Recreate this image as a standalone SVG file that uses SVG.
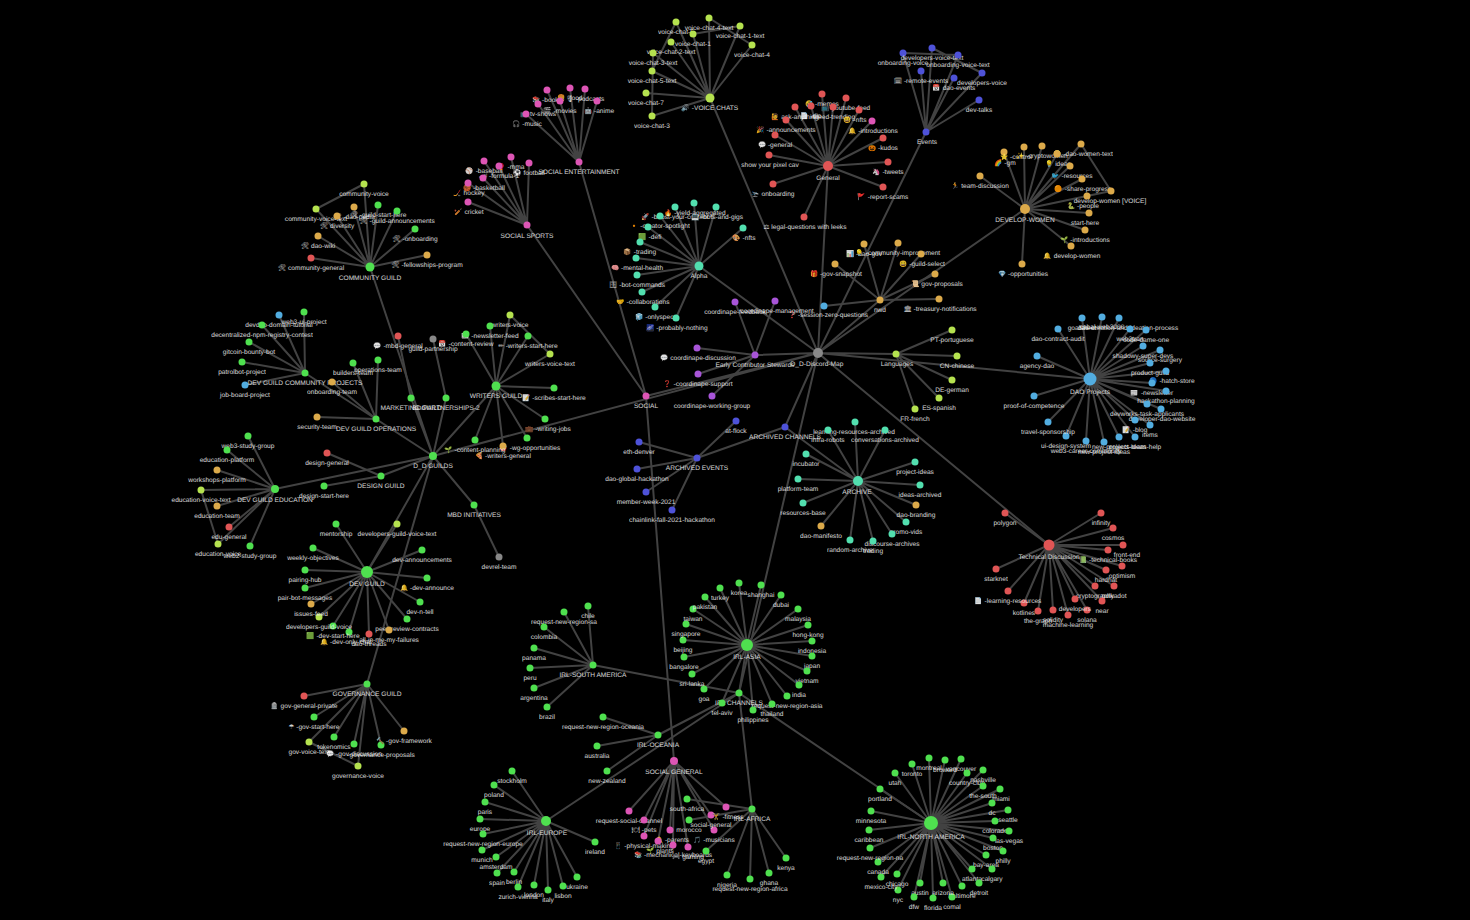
<svg xmlns="http://www.w3.org/2000/svg" width="1470" height="920" viewBox="0 0 1470 920">
<style>
text{font-family:"Liberation Sans","Noto Sans",sans-serif;font-size:6.6px;text-anchor:middle;fill:#f0f0f0;text-rendering:geometricPrecision;opacity:.88;transform:translateY(.5px)}
#edges path{stroke:#424242;stroke-width:2;fill:none}
.g{fill:#4fe04f}.l{fill:#b5e24f}.m{fill:#dd55b5}.r{fill:#e05555}.b{fill:#4e52d8}.o{fill:#dcaa4a}.t{fill:#52dfaf}.s{fill:#52ade0}.p{fill:#a855d8}.y{fill:#888}
</style>
<rect width="1470" height="920" fill="#000"/>
<g id="edges">
<path d="M818 353L710 98M818 353L828 166M818 353L926 132M818 353L1025 209M818 353L880 300M818 353L699 266M818 353L755 355M818 353L896 354M818 353L1090 379M818 353L1049 545M818 353L785 427M818 353L739 693M818 353L646 396M818 353L433 456"/>
<path d="M710 98L676 22M710 98L709 18M710 98L693 34M710 98L740 26M710 98L671 42M710 98L752 45M710 98L653 53M710 98L652 71M710 98L646 93M710 98L652 116M709 18L752 45M676 22L652 71M653 53L652 116M693 34L740 26"/>
<path d="M646 396L579 162M646 396L527 225M646 396L674 761"/>
<path d="M579 162L547 90M579 162L570 88M579 162L585 89M579 162L597 101M579 162L560 101M579 162L538 104M579 162L526 114"/>
<path d="M527 225L484 161M527 225L511 157M527 225L529 163M527 225L499 166M527 225L483 178M527 225L468 183M527 225L468 202"/>
<path d="M828 166L822 94M828 166L846 98M828 166L795 107M828 166L811 106M828 166L833 107M828 166L859 110M828 166L872 121M828 166L786 120M828 166L775 135M828 166L883 138M828 166L769 155M828 166L888 162M828 166L883 187M828 166L773 184M828 166L804 217"/>
<path d="M926 132L903 53M926 132L932 48M926 132L958 55M926 132L921 71M926 132L954 78M926 132L982 73M926 132L979 100M903 53L958 55M932 48L982 73"/>
<path d="M1025 209L1004 152M1025 209L1024 147M1025 209L1042 146M1025 209L1081 144M1025 209L1057 154M1025 209L1070 166M1025 209L1082 179M1025 209L1111 191M1025 209L1087 196M1025 209L1089 213M1025 209L1085 230M1025 209L1071 246M1025 209L1022 264M1025 209L980 176M1081 144L1111 191"/>
<path d="M880 300L864 244M880 300L898 243M880 300L921 254M880 300L835 264M880 300L935 274M880 300L939 299M880 300L824 306"/>
<path d="M699 266L675 207M699 266L694 203M699 266L716 207M699 266L660 216M699 266L648 227M699 266L640 242M699 266L636 258M699 266L637 275M699 266L642 292M699 266L655 307M699 266L676 318M699 266L743 228"/>
<path d="M755 355L735 302M755 355L775 301M755 355L697 348M755 355L698 374M755 355L712 396"/>
<path d="M896 354L952 330M896 354L957 356M896 354L952 380M896 354L939 398M896 354L915 409"/>
<path d="M1090 379L1058 329M1090 379L1082 318M1090 379L1102 317M1090 379L1119 318M1090 379L1130 329M1090 379L1146 330M1090 379L1143 346M1090 379L1160 350M1090 379L1150 363M1090 379L1166 371M1090 379L1152 383M1090 379L1166 391M1090 379L1147 404M1090 379L1161 409M1090 379L1135 420M1090 379L1150 425M1090 379L1119 437M1090 379L1135 437M1090 379L1104 442M1090 379L1086 441M1090 379L1066 436M1090 379L1048 422M1090 379L1034 396M1090 379L1037 356"/>
<path d="M1049 545L1005 513M1049 545L1101 513M1049 545L1113 528M1049 545L1123 545M1049 545L1108 550M1049 545L1122 566M1049 545L1106 570M1049 545L1114 586M1049 545L1095 586M1049 545L1102 601M1049 545L1087 610M1049 545L1075 599M1049 545L1068 615M1049 545L1053 610M1049 545L1038 611M1049 545L1024 603M1049 545L1008 591M1049 545L996 569"/>
<path d="M858 481L785 427M858 481L855 422M858 481L828 430M858 481L885 430M858 481L806 454M858 481L915 462M858 481L798 479M858 481L920 485M858 481L803 503M858 481L916 505M858 481L906 522M858 481L892 534M858 481L821 526M858 481L850 540M858 481L873 541"/>
<path d="M785 427L697 458M697 458L736 421M697 458L639 442M697 458L637 469M697 458L646 492M697 458L672 510"/>
<path d="M739 693L747 645M739 693L593 665M739 693L658 735M739 693L546 821M739 693L752 809M739 693L931 823"/>
<path d="M747 645L720 588M747 645L739 583M747 645L761 585M747 645L781 595M747 645L798 609M747 645L808 625M747 645L812 641M747 645L812 656M747 645L807 671M747 645L799 685M747 645L787 696M747 645L772 704M747 645L753 710M747 645L722 703M747 645L704 689M747 645L692 674M747 645L684 657M747 645L683 640M747 645L686 624M747 645L693 609M747 645L705 597"/>
<path d="M593 665L588 606M593 665L564 612M593 665L544 627M593 665L534 648M593 665L530 668M593 665L534 688M593 665L547 707"/>
<path d="M658 735L603 717M658 735L597 746M658 735L607 771"/>
<path d="M546 821L512 771M546 821L494 785M546 821L485 802M546 821L480 819M546 821L483 834M546 821L482 850M546 821L496 857M546 821L497 873M546 821L514 872M546 821L518 887M546 821L534 885M546 821L548 890M546 821L563 886M546 821L577 877M546 821L595 842"/>
<path d="M674 761L629 811M674 761L644 820M674 761L644 836M674 761L670 830M674 761L658 841M674 761L673 845M674 761L688 847M674 761L714 830M674 761L711 815M674 761L726 807"/>
<path d="M752 809L687 799M752 809L689 820M752 809L706 851M752 809L727 875M752 809L750 879M752 809L769 873M752 809L786 858"/>
<path d="M931 823L880 789M931 823L895 773M931 823L912 764M931 823L929 758M931 823L945 760M931 823L961 759M931 823L967 773M931 823L983 770M931 823L983 786M931 823L1000 789M931 823L992 803M931 823L1008 810M931 823L995 821M931 823L1009 831M931 823L993 838M931 823L1003 851M931 823L986 855M931 823L992 869M931 823L972 869M931 823L979 883M931 823L962 886M931 823L952 897M931 823L943 883M931 823L933 898M931 823L920 883M931 823L914 897M931 823L898 890M931 823L897 874M931 823L881 877M931 823L878 862M931 823L870 848M931 823L869 830M931 823L871 811"/>
<path d="M433 456L370 267M433 456L305 373M433 456L376 419M433 456L411 398M433 456L446 398M433 456L496 386M433 456L381 476M433 456L275 489M433 456L474 505M433 456L367 572M433 456L367 684"/>
<path d="M370 267L364 184M370 267L316 209M370 267L354 207M370 267L337 216M370 267L378 205M370 267L397 211M370 267L415 229M370 267L318 236M370 267L427 255M370 267L311 258M364 184L316 209"/>
<path d="M305 373L304 312M305 373L279 315M305 373L262 325M305 373L249 342M305 373L242 362M305 373L245 385"/>
<path d="M376 419L353 363M376 419L378 360M376 419L332 382M376 419L317 417"/>
<path d="M411 398L398 336M446 398L433 339"/>
<path d="M496 386L510 315M496 386L490 326M496 386L466 334M496 386L528 336M496 386L550 354M496 386L554 388M496 386L545 419M496 386L527 438M496 386L503 446M496 386L475 440M510 315L550 354"/>
<path d="M381 476L327 453M381 476L324 486"/>
<path d="M275 489L248 436M275 489L227 450M275 489L217 470M275 489L201 490M275 489L217 506M275 489L229 527M275 489L218 544M275 489L250 546M201 490L218 544"/>
<path d="M474 505L499 557"/>
<path d="M367 572L336 524M367 572L397 524M367 572L422 550M367 572L427 578M367 572L420 602M367 572L407 619M367 572L389 630M367 572L369 634M367 572L349 632M367 572L333 626M367 572L319 617M367 572L311 604M367 572L305 588M367 572L305 570M367 572L313 548"/>
<path d="M367 684L304 696M367 684L314 717M367 684L334 737M367 684L309 742M367 684L354 744M367 684L381 745M367 684L404 731M367 684L358 766M309 742L358 766"/>
</g>
<g id="root"><circle class="y" cx="818" cy="353" r="5"/><text x="817" y="365.500">D_D-Discord-Map</text></g>
<g id="voice-chats"><circle class="l" cx="710" cy="98" r="4.500"/><text x="710" y="109.500">🔊 -VOICE CHATS</text></g>
<g id="vc1"><circle class="l" cx="676" cy="22" r="3.500"/><text x="676" y="33">voice-chat-5</text></g>
<g id="vc2"><circle class="l" cx="709" cy="18" r="3.500"/><text x="709" y="29">voice-chat-4-text</text></g>
<g id="vc3"><circle class="l" cx="693" cy="34" r="3.500"/><text x="693" y="45">voice-chat-1</text></g>
<g id="vc4"><circle class="l" cx="740" cy="26" r="3.500"/><text x="740" y="37">voice-chat-1-text</text></g>
<g id="vc5"><circle class="l" cx="671" cy="42" r="3.500"/><text x="671" y="53">voice-chat-2-text</text></g>
<g id="vc6"><circle class="l" cx="752" cy="45" r="3.500"/><text x="752" y="56">voice-chat-4</text></g>
<g id="vc7"><circle class="l" cx="653" cy="53" r="3.500"/><text x="653" y="64">voice-chat-3-text</text></g>
<g id="vc8"><circle class="l" cx="652" cy="71" r="3.500"/><text x="652" y="82">voice-chat-5-text</text></g>
<g id="vc9"><circle class="l" cx="646" cy="93" r="3.500"/><text x="646" y="104">voice-chat-7</text></g>
<g id="vc10"><circle class="l" cx="652" cy="116" r="3.500"/><text x="652" y="127">voice-chat-3</text></g>
<g id="social-ent"><circle class="m" cx="579" cy="162" r="3.500"/><text x="579" y="173">SOCIAL ENTERTAINMENT</text></g>
<g id="se1"><circle class="m" cx="547" cy="90" r="3.500"/><text x="547" y="101">📚 -books</text></g>
<g id="se2"><circle class="m" cx="570" cy="88" r="3.500"/><text x="570" y="99">🍔 -food</text></g>
<g id="se3"><circle class="m" cx="585" cy="89" r="3.500"/><text x="585" y="100">🎙 -podcasts</text></g>
<g id="se4"><circle class="m" cx="597" cy="101" r="3.500"/><text x="599" y="112">🤖 -anime</text></g>
<g id="se5"><circle class="m" cx="560" cy="101" r="3.500"/><text x="560" y="112">🎬 -movies</text></g>
<g id="se6"><circle class="m" cx="538" cy="104" r="3.500"/><text x="538" y="115">📺 tv-shows</text></g>
<g id="se7"><circle class="m" cx="526" cy="114" r="3.500"/><text x="527" y="125">🎧 -music</text></g>
<g id="social-sports"><circle class="m" cx="527" cy="225" r="3.500"/><text x="527" y="237">SOCIAL SPORTS</text></g>
<g id="sp1"><circle class="m" cx="484" cy="161" r="3.500"/><text x="484" y="172">⚾ -baseball</text></g>
<g id="sp2"><circle class="m" cx="511" cy="157" r="3.500"/><text x="511" y="168">🥊 -mma</text></g>
<g id="sp3"><circle class="m" cx="529" cy="163" r="3.500"/><text x="529" y="174">⚽ football</text></g>
<g id="sp4"><circle class="m" cx="499" cy="166" r="3.500"/><text x="499" y="177">🏎 -formula-1</text></g>
<g id="sp5"><circle class="m" cx="483" cy="178" r="3.500"/><text x="484" y="189">🏀 -basketball</text></g>
<g id="sp6"><circle class="m" cx="468" cy="183" r="3.500"/><text x="469" y="194">🏒 hockey</text></g>
<g id="sp7"><circle class="m" cx="468" cy="202" r="3.500"/><text x="469" y="213">🏏 cricket</text></g>
<g id="general"><circle class="r" cx="828" cy="166" r="5"/><text x="828" y="179">General</text></g>
<g id="ge1"><circle class="r" cx="822" cy="94" r="3.500"/><text x="822" y="105">🤣 -memes</text></g>
<g id="ge2"><circle class="r" cx="846" cy="98" r="3.500"/><text x="846" y="109">📺 youtube-feed</text></g>
<g id="ge3"><circle class="r" cx="795" cy="107" r="3.500"/><text x="795" y="118">🙋 ask-anything</text></g>
<g id="ge4"><circle class="r" cx="811" cy="106" r="3.500"/><text x="811" y="117">📄 -dip</text></g>
<g id="ge5"><circle class="r" cx="833" cy="107" r="3.500"/><text x="833" y="118">-bleed-trending</text></g>
<g id="ge6"><circle class="r" cx="859" cy="110" r="3.500"/><text x="855" y="121">😃 -nfts</text></g>
<g id="ge7"><circle class="m" cx="872" cy="121" r="3.500"/><text x="873" y="132">🔔 -introductions</text></g>
<g id="ge8"><circle class="r" cx="786" cy="120" r="3.500"/><text x="786" y="131">🎉 -announcements</text></g>
<g id="ge9"><circle class="r" cx="775" cy="135" r="3.500"/><text x="775" y="146">💬 -general</text></g>
<g id="ge10"><circle class="r" cx="883" cy="138" r="3.500"/><text x="883" y="149">🎃 -kudos</text></g>
<g id="ge11"><circle class="r" cx="769" cy="155" r="3.500"/><text x="770" y="166">show your pixel cav</text></g>
<g id="ge12"><circle class="r" cx="888" cy="162" r="3.500"/><text x="888" y="173">🦄 -tweets</text></g>
<g id="ge13"><circle class="r" cx="883" cy="187" r="3.500"/><text x="883" y="198">🚩 -report-scams</text></g>
<g id="ge14"><circle class="r" cx="773" cy="184" r="3.500"/><text x="773" y="195">🛬 onboarding</text></g>
<g id="ge15"><circle class="r" cx="804" cy="217" r="3.500"/><text x="805" y="228">⚖ legal-questions with leeks</text></g>
<g id="events"><circle class="b" cx="926" cy="132" r="3.500"/><text x="927" y="143">Events</text></g>
<g id="ev1"><circle class="b" cx="903" cy="53" r="3.500"/><text x="903" y="64">onboarding-voice</text></g>
<g id="ev2"><circle class="b" cx="932" cy="48" r="3.500"/><text x="932" y="59">developers-voice-text</text></g>
<g id="ev3"><circle class="b" cx="958" cy="55" r="3.500"/><text x="958" y="66">onboarding-voice-text</text></g>
<g id="ev4"><circle class="b" cx="921" cy="71" r="3.500"/><text x="921" y="82">🗓 -remote-events</text></g>
<g id="ev5"><circle class="b" cx="954" cy="78" r="3.500"/><text x="954" y="89">📅 dao-events</text></g>
<g id="ev6"><circle class="b" cx="982" cy="73" r="3.500"/><text x="982" y="84">developers-voice</text></g>
<g id="ev7"><circle class="b" cx="979" cy="100" r="3.500"/><text x="979" y="111">dev-talks</text></g>
<g id="women"><circle class="o" cx="1025" cy="209" r="5"/><text x="1025" y="221.500">DEVELOP-WOMEN</text></g>
<g id="wo1"><circle class="o" cx="1004" cy="152" r="3.500"/><text x="1005" y="164">🌈 -gm</text></g>
<g id="wo2"><circle class="o" cx="1024" cy="147" r="3.500"/><text x="1016" y="158">⭐ -control</text></g>
<g id="wo3"><circle class="o" cx="1042" cy="146" r="3.500"/><text x="1042" y="157">✨ -cryptowomen</text></g>
<g id="wo4"><circle class="o" cx="1081" cy="144" r="3.500"/><text x="1083" y="155">🪙 -dao-women-text</text></g>
<g id="wo5"><circle class="o" cx="1057" cy="154" r="3.500"/><text x="1058" y="165">💡 ideas</text></g>
<g id="wo6"><circle class="o" cx="1070" cy="166" r="3.500"/><text x="1072" y="177">🐦 -resources</text></g>
<g id="wo7"><circle class="o" cx="1082" cy="179" r="3.500"/><text x="1083" y="190">🟠 -share-progress</text></g>
<g id="wo8"><circle class="o" cx="1111" cy="191" r="3.500"/><text x="1110" y="202">develop-women [VOICE]</text></g>
<g id="wo9"><circle class="o" cx="1087" cy="196" r="3.500"/><text x="1083" y="207">🐍 -people</text></g>
<g id="wo10"><circle class="o" cx="1089" cy="213" r="3.500"/><text x="1085" y="224">start-here</text></g>
<g id="wo11"><circle class="o" cx="1085" cy="230" r="3.500"/><text x="1085" y="241">🌱 -introductions</text></g>
<g id="wo12"><circle class="o" cx="1071" cy="246" r="3.500"/><text x="1072" y="257">🔔 develop-women</text></g>
<g id="wo13"><circle class="o" cx="1022" cy="264" r="3.500"/><text x="1023" y="275">💎 -opportunities</text></g>
<g id="wo14"><circle class="o" cx="980" cy="176" r="3.500"/><text x="980" y="187">🏃 team-discussion</text></g>
<g id="nwd"><circle class="o" cx="880" cy="300" r="3.500"/><text x="880" y="311">nwd</text></g>
<g id="nw1"><circle class="o" cx="864" cy="244" r="3.500"/><text x="864" y="255">📊 -dao-gov</text></g>
<g id="nw2"><circle class="o" cx="898" cy="243" r="3.500"/><text x="898" y="254">💡 -community-improvement</text></g>
<g id="nw3"><circle class="o" cx="921" cy="254" r="3.500"/><text x="922" y="265">😀 -guild-select</text></g>
<g id="nw4"><circle class="o" cx="835" cy="264" r="3.500"/><text x="836" y="275">🎁 -gov-snapshot</text></g>
<g id="nw5"><circle class="o" cx="935" cy="274" r="3.500"/><text x="937" y="285">📜 gov-proposals</text></g>
<g id="nw6"><circle class="o" cx="939" cy="299" r="3.500"/><text x="940" y="310">🏛 -treasury-notifications</text></g>
<g id="nw7"><circle class="s" cx="824" cy="306" r="3.500"/><text x="828" y="316.500">❓ -session-zero-questions</text></g>
<g id="alpha"><circle class="t" cx="699" cy="266" r="4.500"/><text x="699" y="277.500">Alpha</text></g>
<g id="al1"><circle class="t" cx="675" cy="207" r="3.500"/><text x="675" y="218">🚀 -boost-your-content</text></g>
<g id="al2"><circle class="t" cx="694" cy="203" r="3.500"/><text x="695" y="214">🔥 -yield-aggregated</text></g>
<g id="al3"><circle class="t" cx="716" cy="207" r="3.500"/><text x="717" y="218">💻 -bots-and-gigs</text></g>
<g id="al4"><circle class="t" cx="660" cy="216" r="3.500"/><text x="660" y="227">🔸 -creator-spotlight</text></g>
<g id="al5"><circle class="t" cx="648" cy="227" r="3.500"/><text x="650" y="238">🟩 -defi</text></g>
<g id="al6"><circle class="t" cx="640" cy="242" r="3.500"/><text x="640" y="253">📦 -trading</text></g>
<g id="al7"><circle class="t" cx="636" cy="258" r="3.500"/><text x="637" y="269">🧠 -mental-health</text></g>
<g id="al8"><circle class="t" cx="637" cy="275" r="3.500"/><text x="637" y="286">🗄 -bot-commands</text></g>
<g id="al9"><circle class="t" cx="642" cy="292" r="3.500"/><text x="643" y="303">🤝 -collaborations</text></g>
<g id="al10"><circle class="t" cx="655" cy="307" r="3.500"/><text x="656" y="318">🧊 -onlyspecs</text></g>
<g id="al11"><circle class="t" cx="676" cy="318" r="3.500"/><text x="677" y="329">🌌 -probably-nothing</text></g>
<g id="al12"><circle class="t" cx="743" cy="228" r="3.500"/><text x="744" y="239">🎨 -nfts</text></g>
<g id="early"><circle class="p" cx="755" cy="355" r="3.500"/><text x="755" y="366">Early Contributor Stewards</text></g>
<g id="ea1"><circle class="p" cx="735" cy="302" r="3.500"/><text x="735" y="313">coordinape-feedback</text></g>
<g id="ea2"><circle class="p" cx="775" cy="301" r="3.500"/><text x="777" y="312">coordinape-management</text></g>
<g id="ea3"><circle class="p" cx="697" cy="348" r="3.500"/><text x="698" y="359">💬 coordinape-discussion</text></g>
<g id="ea4"><circle class="p" cx="698" cy="374" r="3.500"/><text x="698" y="385">❓ -coordinape-support</text></g>
<g id="ea5"><circle class="p" cx="712" cy="396" r="3.500"/><text x="712" y="407">coordinape-working-group</text></g>
<g id="lang"><circle class="l" cx="896" cy="354" r="3.500"/><text x="897" y="365">Languages</text></g>
<g id="la1"><circle class="l" cx="952" cy="330" r="3.500"/><text x="952" y="341">PT-portuguese</text></g>
<g id="la2"><circle class="l" cx="957" cy="356" r="3.500"/><text x="957" y="367">CN-chinese</text></g>
<g id="la3"><circle class="l" cx="952" cy="380" r="3.500"/><text x="952" y="391">DE-german</text></g>
<g id="la4"><circle class="l" cx="939" cy="398" r="3.500"/><text x="939" y="409">ES-spanish</text></g>
<g id="la5"><circle class="l" cx="915" cy="409" r="3.500"/><text x="915" y="420">FR-french</text></g>
<g id="projects"><circle class="s" cx="1090" cy="379" r="6.500"/><text x="1090" y="393.500">DAO Projects</text></g>
<g id="pr1"><circle class="s" cx="1058" cy="329" r="3.500"/><text x="1058" y="340">dao-contract-audit</text></g>
<g id="pr2"><circle class="s" cx="1082" cy="318" r="3.500"/><text x="1082" y="329">goalsheet</text></g>
<g id="pr3"><circle class="s" cx="1102" cy="317" r="3.500"/><text x="1102" y="328">cabal-web3000</text></g>
<g id="pr4"><circle class="s" cx="1119" cy="318" r="3.500"/><text x="1128" y="329">dao-creation-and-ideation-process</text></g>
<g id="pr5"><circle class="s" cx="1130" cy="329" r="3.500"/><text x="1130" y="340">web3tran</text></g>
<g id="pr6"><circle class="s" cx="1146" cy="330" r="3.500"/><text x="1146" y="341">code-dame-one</text></g>
<g id="pr7"><circle class="s" cx="1143" cy="346" r="3.500"/><text x="1143" y="357">shadowy-super-devs</text></g>
<g id="pr8"><circle class="s" cx="1160" cy="350" r="3.500"/><text x="1160" y="361">source-surgery</text></g>
<g id="pr9"><circle class="s" cx="1150" cy="363" r="3.500"/><text x="1150" y="374">product-guild</text></g>
<g id="pr10"><circle class="s" cx="1166" cy="371" r="3.500"/><text x="1172" y="382">🔵 -hatch-store</text></g>
<g id="pr11"><circle class="s" cx="1152" cy="383" r="3.500"/><text x="1152" y="394">📰 -newsletter</text></g>
<g id="pr12"><circle class="s" cx="1166" cy="391" r="3.500"/><text x="1166" y="402">hackathon-planning</text></g>
<g id="pr13"><circle class="s" cx="1147" cy="404" r="3.500"/><text x="1147" y="415">devworks-task-applicants</text></g>
<g id="pr14"><circle class="s" cx="1161" cy="409" r="3.500"/><text x="1162" y="420">developer-dao-website</text></g>
<g id="pr15"><circle class="s" cx="1135" cy="420" r="3.500"/><text x="1135" y="431">📝 -blog</text></g>
<g id="pr16"><circle class="s" cx="1150" cy="425" r="3.500"/><text x="1150" y="436">items</text></g>
<g id="pr17"><circle class="s" cx="1119" cy="437" r="3.500"/><text x="1119" y="448">new-projects-team</text></g>
<g id="pr18"><circle class="s" cx="1135" cy="437" r="3.500"/><text x="1135" y="448">project-ideas-help</text></g>
<g id="pr19"><circle class="s" cx="1104" cy="442" r="3.500"/><text x="1104" y="453">new-project-ideas</text></g>
<g id="pr20"><circle class="s" cx="1086" cy="441" r="3.500"/><text x="1086" y="452">web3-career-community</text></g>
<g id="pr21"><circle class="s" cx="1066" cy="436" r="3.500"/><text x="1066" y="447">ui-design-system</text></g>
<g id="pr22"><circle class="s" cx="1048" cy="422" r="3.500"/><text x="1048" y="433">travel-sponsorship</text></g>
<g id="pr23"><circle class="s" cx="1034" cy="396" r="3.500"/><text x="1034" y="407">proof-of-competence</text></g>
<g id="pr24"><circle class="s" cx="1037" cy="356" r="3.500"/><text x="1037" y="367">agency-dao</text></g>
<g id="tech"><circle class="r" cx="1049" cy="545" r="5.500"/><text x="1049" y="558.500">Technical Discussion</text></g>
<g id="te1"><circle class="r" cx="1005" cy="513" r="3.500"/><text x="1005" y="524">polygon</text></g>
<g id="te2"><circle class="r" cx="1101" cy="513" r="3.500"/><text x="1101" y="524">infinity</text></g>
<g id="te3"><circle class="r" cx="1113" cy="528" r="3.500"/><text x="1113" y="539">cosmos</text></g>
<g id="te4"><circle class="r" cx="1123" cy="545" r="3.500"/><text x="1127" y="556">front-end</text></g>
<g id="te5"><circle class="r" cx="1108" cy="550" r="3.500"/><text x="1108" y="561">📗 -technical-books</text></g>
<g id="te6"><circle class="r" cx="1122" cy="566" r="3.500"/><text x="1122" y="577">optimism</text></g>
<g id="te7"><circle class="r" cx="1106" cy="570" r="3.500"/><text x="1106" y="581">hardhat</text></g>
<g id="te8"><circle class="r" cx="1114" cy="586" r="3.500"/><text x="1114" y="597">polkadot</text></g>
<g id="te9"><circle class="r" cx="1095" cy="586" r="3.500"/><text x="1095" y="597">cryptography</text></g>
<g id="te10"><circle class="r" cx="1102" cy="601" r="3.500"/><text x="1102" y="612">near</text></g>
<g id="te11"><circle class="r" cx="1087" cy="610" r="3.500"/><text x="1087" y="621">solana</text></g>
<g id="te12"><circle class="r" cx="1075" cy="599" r="3.500"/><text x="1075" y="610">developers</text></g>
<g id="te13"><circle class="r" cx="1068" cy="615" r="3.500"/><text x="1068" y="626">machine-learning</text></g>
<g id="te14"><circle class="r" cx="1053" cy="610" r="3.500"/><text x="1053" y="621">solidity</text></g>
<g id="te15"><circle class="r" cx="1038" cy="611" r="3.500"/><text x="1038" y="622">the-graph</text></g>
<g id="te16"><circle class="r" cx="1024" cy="603" r="3.500"/><text x="1024" y="614">kotlines</text></g>
<g id="te17"><circle class="r" cx="1008" cy="591" r="3.500"/><text x="1008" y="602">📄 -learning-resources</text></g>
<g id="te18"><circle class="r" cx="996" cy="569" r="3.500"/><text x="996" y="580">starknet</text></g>
<g id="archive"><circle class="t" cx="858" cy="481" r="5"/><text x="857" y="493.500">ARCHIVE</text></g>
<g id="ar1"><circle class="t" cx="855" cy="422" r="3.500"/><text x="854" y="433">learning-resources-archived</text></g>
<g id="ar2"><circle class="t" cx="828" cy="430" r="3.500"/><text x="828" y="441">infra-robots</text></g>
<g id="ar3"><circle class="t" cx="885" cy="430" r="3.500"/><text x="885" y="441">conversations-archived</text></g>
<g id="ar4"><circle class="t" cx="806" cy="454" r="3.500"/><text x="806" y="465">incubator</text></g>
<g id="ar5"><circle class="t" cx="915" cy="462" r="3.500"/><text x="915" y="473">project-ideas</text></g>
<g id="ar6"><circle class="t" cx="798" cy="479" r="3.500"/><text x="798" y="490">platform-team</text></g>
<g id="ar7"><circle class="t" cx="920" cy="485" r="3.500"/><text x="920" y="496">ideas-archived</text></g>
<g id="ar8"><circle class="t" cx="803" cy="503" r="3.500"/><text x="803" y="514">resources-base</text></g>
<g id="ar9"><circle class="o" cx="916" cy="505" r="3.500"/><text x="916" y="516">dao-branding</text></g>
<g id="ar10"><circle class="t" cx="906" cy="522" r="3.500"/><text x="906" y="533">promo-vids</text></g>
<g id="ar11"><circle class="t" cx="892" cy="534" r="3.500"/><text x="892" y="545">discourse-archives</text></g>
<g id="ar12"><circle class="o" cx="821" cy="526" r="3.500"/><text x="821" y="537">dao-manifesto</text></g>
<g id="ar13"><circle class="t" cx="850" cy="540" r="3.500"/><text x="850" y="551">random-archive</text></g>
<g id="ar14"><circle class="t" cx="873" cy="541" r="3.500"/><text x="873" y="552">trading</text></g>
<g id="archived-ch"><circle class="b" cx="785" cy="427" r="3.500"/><text x="785" y="438">ARCHIVED CHANNELS</text></g>
<g id="archived-ev"><circle class="b" cx="697" cy="458" r="3.500"/><text x="697" y="469">ARCHIVED EVENTS</text></g>
<g id="ae1"><circle class="b" cx="736" cy="421" r="3.500"/><text x="736" y="432">at-flock</text></g>
<g id="ae2"><circle class="b" cx="639" cy="442" r="3.500"/><text x="639" y="453">eth-denver</text></g>
<g id="ae3"><circle class="b" cx="637" cy="469" r="3.500"/><text x="637" y="480">dao-global-hackathon</text></g>
<g id="ae4"><circle class="b" cx="646" cy="492" r="3.500"/><text x="646" y="503">member-week-2021</text></g>
<g id="ae5"><circle class="b" cx="672" cy="510" r="3.500"/><text x="672" y="521">chainlink-fall-2021-hackathon</text></g>
<g id="irl"><circle class="g" cx="739" cy="693" r="3.500"/><text x="739" y="704">IRL CHANNELS</text></g>
<g id="asia"><circle class="g" cx="747" cy="645" r="6"/><text x="747" y="658.500">IRL-ASIA</text></g>
<g id="as1"><circle class="g" cx="720" cy="588" r="3.500"/><text x="720" y="599">turkey</text></g>
<g id="as2"><circle class="g" cx="739" cy="583" r="3.500"/><text x="739" y="594">korea</text></g>
<g id="as3"><circle class="g" cx="761" cy="585" r="3.500"/><text x="761" y="596">shanghai</text></g>
<g id="as4"><circle class="g" cx="781" cy="595" r="3.500"/><text x="781" y="606">dubai</text></g>
<g id="as5"><circle class="g" cx="798" cy="609" r="3.500"/><text x="798" y="620">malaysia</text></g>
<g id="as6"><circle class="g" cx="808" cy="625" r="3.500"/><text x="808" y="636">hong-kong</text></g>
<g id="as7"><circle class="g" cx="812" cy="641" r="3.500"/><text x="812" y="652">indonesia</text></g>
<g id="as8"><circle class="g" cx="812" cy="656" r="3.500"/><text x="812" y="667">japan</text></g>
<g id="as9"><circle class="g" cx="807" cy="671" r="3.500"/><text x="807" y="682">vietnam</text></g>
<g id="as10"><circle class="g" cx="799" cy="685" r="3.500"/><text x="799" y="696">india</text></g>
<g id="as11"><circle class="g" cx="787" cy="696" r="3.500"/><text x="787" y="707">request-new-region-asia</text></g>
<g id="as12"><circle class="g" cx="772" cy="704" r="3.500"/><text x="772" y="715">thailand</text></g>
<g id="as13"><circle class="g" cx="753" cy="710" r="3.500"/><text x="753" y="721">philippines</text></g>
<g id="as14"><circle class="g" cx="722" cy="703" r="3.500"/><text x="722" y="714">tel-aviv</text></g>
<g id="as15"><circle class="g" cx="704" cy="689" r="3.500"/><text x="704" y="700">goa</text></g>
<g id="as16"><circle class="g" cx="692" cy="674" r="3.500"/><text x="692" y="685">sri-lanka</text></g>
<g id="as17"><circle class="g" cx="684" cy="657" r="3.500"/><text x="684" y="668">bangalore</text></g>
<g id="as18"><circle class="g" cx="683" cy="640" r="3.500"/><text x="683" y="651">beijing</text></g>
<g id="as19"><circle class="g" cx="686" cy="624" r="3.500"/><text x="686" y="635">singapore</text></g>
<g id="as20"><circle class="g" cx="693" cy="609" r="3.500"/><text x="693" y="620">taiwan</text></g>
<g id="as21"><circle class="g" cx="705" cy="597" r="3.500"/><text x="705" y="608">pakistan</text></g>
<g id="samerica"><circle class="g" cx="593" cy="665" r="3.500"/><text x="593" y="676">IRL-SOUTH AMERICA</text></g>
<g id="sa1"><circle class="g" cx="588" cy="606" r="3.500"/><text x="588" y="617">chile</text></g>
<g id="sa2"><circle class="g" cx="564" cy="612" r="3.500"/><text x="564" y="623">request-new-region-sa</text></g>
<g id="sa3"><circle class="g" cx="544" cy="627" r="3.500"/><text x="544" y="638">colombia</text></g>
<g id="sa4"><circle class="g" cx="534" cy="648" r="3.500"/><text x="534" y="659">panama</text></g>
<g id="sa5"><circle class="g" cx="530" cy="668" r="3.500"/><text x="530" y="679">peru</text></g>
<g id="sa6"><circle class="g" cx="534" cy="688" r="3.500"/><text x="534" y="699">argentina</text></g>
<g id="sa7"><circle class="g" cx="547" cy="707" r="3.500"/><text x="547" y="718">brazil</text></g>
<g id="oceania"><circle class="g" cx="658" cy="735" r="3.500"/><text x="658" y="746">IRL-OCEANIA</text></g>
<g id="oc1"><circle class="g" cx="603" cy="717" r="3.500"/><text x="603" y="728">request-new-region-oceania</text></g>
<g id="oc2"><circle class="g" cx="597" cy="746" r="3.500"/><text x="597" y="757">australia</text></g>
<g id="oc3"><circle class="g" cx="607" cy="771" r="3.500"/><text x="607" y="782">new-zealand</text></g>
<g id="europe"><circle class="g" cx="546" cy="821" r="5"/><text x="547" y="834.500">IRL-EUROPE</text></g>
<g id="eu1"><circle class="g" cx="512" cy="771" r="3.500"/><text x="512" y="782">stockholm</text></g>
<g id="eu2"><circle class="g" cx="494" cy="785" r="3.500"/><text x="494" y="796">poland</text></g>
<g id="eu3"><circle class="g" cx="485" cy="802" r="3.500"/><text x="485" y="813">paris</text></g>
<g id="eu4"><circle class="g" cx="480" cy="819" r="3.500"/><text x="480" y="830">europe</text></g>
<g id="eu5"><circle class="g" cx="483" cy="834" r="3.500"/><text x="483" y="845">request-new-region-europe</text></g>
<g id="eu6"><circle class="g" cx="482" cy="850" r="3.500"/><text x="482" y="861">munich</text></g>
<g id="eu7"><circle class="g" cx="496" cy="857" r="3.500"/><text x="496" y="868">amsterdam</text></g>
<g id="eu8"><circle class="g" cx="497" cy="873" r="3.500"/><text x="497" y="884">spain</text></g>
<g id="eu9"><circle class="g" cx="514" cy="872" r="3.500"/><text x="514" y="883">berlin</text></g>
<g id="eu10"><circle class="g" cx="518" cy="887" r="3.500"/><text x="518" y="898">zurich-vienna</text></g>
<g id="eu11"><circle class="g" cx="534" cy="885" r="3.500"/><text x="534" y="896">london</text></g>
<g id="eu12"><circle class="g" cx="548" cy="890" r="3.500"/><text x="548" y="901">italy</text></g>
<g id="eu13"><circle class="g" cx="563" cy="886" r="3.500"/><text x="563" y="897">lisbon</text></g>
<g id="eu14"><circle class="g" cx="577" cy="877" r="3.500"/><text x="577" y="888">ukraine</text></g>
<g id="eu15"><circle class="g" cx="595" cy="842" r="3.500"/><text x="595" y="853">ireland</text></g>
<g id="social"><circle class="m" cx="646" cy="396" r="3.500"/><text x="646" y="407">SOCIAL</text></g>
<g id="social-general"><circle class="m" cx="674" cy="761" r="4"/><text x="674" y="773">SOCIAL GENERAL</text></g>
<g id="sg1"><circle class="m" cx="629" cy="811" r="3.500"/><text x="629" y="822">request-social-channel</text></g>
<g id="sg2"><circle class="m" cx="644" cy="820" r="3.500"/><text x="644" y="831">🍽 -pets</text></g>
<g id="sg3"><circle class="m" cx="644" cy="836" r="3.500"/><text x="644" y="847">📱 -physical-making</text></g>
<g id="sg4"><circle class="m" cx="670" cy="830" r="3.500"/><text x="672" y="841">🔔 -parents</text></g>
<g id="sg5"><circle class="m" cx="658" cy="841" r="3.500"/><text x="660" y="852">🌱 plants</text></g>
<g id="sg6"><circle class="m" cx="673" cy="845" r="3.500"/><text x="673" y="856">📚 -mechanical-keyboards</text></g>
<g id="sg7"><circle class="m" cx="688" cy="847" r="3.500"/><text x="688" y="858">🎮 gaming</text></g>
<g id="sg8"><circle class="m" cx="714" cy="830" r="3.500"/><text x="714" y="841">🎵 -musicians</text></g>
<g id="sg9"><circle class="m" cx="711" cy="815" r="3.500"/><text x="711" y="826">social-general</text></g>
<g id="sg10"><circle class="m" cx="726" cy="807" r="3.500"/><text x="728" y="818">🏋 -fitness</text></g>
<g id="africa"><circle class="g" cx="752" cy="809" r="3.500"/><text x="752" y="820">IRL-AFRICA</text></g>
<g id="af1"><circle class="g" cx="687" cy="799" r="3.500"/><text x="687" y="810">south-africa</text></g>
<g id="af2"><circle class="g" cx="689" cy="820" r="3.500"/><text x="689" y="831">morocco</text></g>
<g id="af3"><circle class="g" cx="706" cy="851" r="3.500"/><text x="706" y="862">egypt</text></g>
<g id="af4"><circle class="g" cx="727" cy="875" r="3.500"/><text x="727" y="886">nigeria</text></g>
<g id="af5"><circle class="g" cx="750" cy="879" r="3.500"/><text x="750" y="890">request-new-region-africa</text></g>
<g id="af6"><circle class="g" cx="769" cy="873" r="3.500"/><text x="769" y="884">ghana</text></g>
<g id="af7"><circle class="g" cx="786" cy="858" r="3.500"/><text x="786" y="869">kenya</text></g>
<g id="namerica"><circle class="g" cx="931" cy="823" r="7"/><text x="931" y="838.500">IRL-NORTH AMERICA</text></g>
<g id="na1"><circle class="g" cx="880" cy="789" r="3.500"/><text x="880" y="800">portland</text></g>
<g id="na2"><circle class="g" cx="895" cy="773" r="3.500"/><text x="895" y="784">utah</text></g>
<g id="na3"><circle class="g" cx="912" cy="764" r="3.500"/><text x="912" y="775">toronto</text></g>
<g id="na4"><circle class="g" cx="929" cy="758" r="3.500"/><text x="929" y="769">montreal</text></g>
<g id="na5"><circle class="g" cx="945" cy="760" r="3.500"/><text x="945" y="771">broward</text></g>
<g id="na6"><circle class="g" cx="961" cy="759" r="3.500"/><text x="961" y="770">vancouver</text></g>
<g id="na7"><circle class="g" cx="967" cy="773" r="3.500"/><text x="967" y="784">country-club</text></g>
<g id="na8"><circle class="g" cx="983" cy="770" r="3.500"/><text x="983" y="781">nashville</text></g>
<g id="na9"><circle class="g" cx="983" cy="786" r="3.500"/><text x="983" y="797">the-south</text></g>
<g id="na10"><circle class="g" cx="1000" cy="789" r="3.500"/><text x="1001" y="800">miami</text></g>
<g id="na11"><circle class="g" cx="992" cy="803" r="3.500"/><text x="992" y="814">dc</text></g>
<g id="na12"><circle class="g" cx="1008" cy="810" r="3.500"/><text x="1008" y="821">seattle</text></g>
<g id="na13"><circle class="g" cx="995" cy="821" r="3.500"/><text x="995" y="832">colorado</text></g>
<g id="na14"><circle class="g" cx="1009" cy="831" r="3.500"/><text x="1009" y="842">las-vegas</text></g>
<g id="na15"><circle class="g" cx="993" cy="838" r="3.500"/><text x="993" y="849">boston</text></g>
<g id="na16"><circle class="g" cx="1003" cy="851" r="3.500"/><text x="1003" y="862">philly</text></g>
<g id="na17"><circle class="g" cx="986" cy="855" r="3.500"/><text x="986" y="866">bay-area</text></g>
<g id="na18"><circle class="g" cx="992" cy="869" r="3.500"/><text x="992" y="880">calgary</text></g>
<g id="na19"><circle class="g" cx="972" cy="869" r="3.500"/><text x="972" y="880">atlanta</text></g>
<g id="na20"><circle class="g" cx="979" cy="883" r="3.500"/><text x="979" y="894">detroit</text></g>
<g id="na21"><circle class="g" cx="962" cy="886" r="3.500"/><text x="962" y="897">baltimore</text></g>
<g id="na22"><circle class="g" cx="952" cy="897" r="3.500"/><text x="952" y="908">comal</text></g>
<g id="na23"><circle class="g" cx="943" cy="883" r="3.500"/><text x="943" y="894">arizona</text></g>
<g id="na24"><circle class="g" cx="933" cy="898" r="3.500"/><text x="933" y="909">florida</text></g>
<g id="na25"><circle class="g" cx="920" cy="883" r="3.500"/><text x="920" y="894">austin</text></g>
<g id="na26"><circle class="g" cx="914" cy="897" r="3.500"/><text x="914" y="908">dfw</text></g>
<g id="na27"><circle class="g" cx="898" cy="890" r="3.500"/><text x="898" y="901">nyc</text></g>
<g id="na28"><circle class="g" cx="897" cy="874" r="3.500"/><text x="897" y="885">chicago</text></g>
<g id="na29"><circle class="g" cx="881" cy="877" r="3.500"/><text x="881" y="888">mexico-city</text></g>
<g id="na30"><circle class="g" cx="878" cy="862" r="3.500"/><text x="878" y="873">canada</text></g>
<g id="na31"><circle class="g" cx="870" cy="848" r="3.500"/><text x="870" y="859">request-new-region-na</text></g>
<g id="na32"><circle class="g" cx="869" cy="830" r="3.500"/><text x="869" y="841">caribbean</text></g>
<g id="na33"><circle class="g" cx="871" cy="811" r="3.500"/><text x="871" y="822">minnesota</text></g>
<g id="guilds"><circle class="g" cx="433" cy="456" r="4"/><text x="433" y="467.500">D_D GUILDS</text></g>
<g id="community"><circle class="g" cx="370" cy="267" r="4.500"/><text x="370" y="279.500">COMMUNITY GUILD</text></g>
<g id="cg1"><circle class="l" cx="364" cy="184" r="3.500"/><text x="364" y="195">community-voice</text></g>
<g id="cg2"><circle class="l" cx="316" cy="209" r="3.500"/><text x="316" y="220">community-voice-text</text></g>
<g id="cg3"><circle class="o" cx="354" cy="207" r="3.500"/><text x="354" y="218">🛠 -dao-pedia</text></g>
<g id="cg4"><circle class="o" cx="337" cy="216" r="3.500"/><text x="337" y="227">🛠 diversity</text></g>
<g id="cg5"><circle class="g" cx="378" cy="205" r="3.500"/><text x="378" y="216">🛠 -guild-start-here</text></g>
<g id="cg6"><circle class="g" cx="397" cy="211" r="3.500"/><text x="397" y="222">🛠 -guild-announcements</text></g>
<g id="cg7"><circle class="g" cx="415" cy="229" r="3.500"/><text x="415" y="240">🛠 -onboarding</text></g>
<g id="cg8"><circle class="o" cx="318" cy="236" r="3.500"/><text x="318" y="247">🛠 dao-wiki</text></g>
<g id="cg9"><circle class="o" cx="427" cy="255" r="3.500"/><text x="427" y="266">🛠 -fellowships-program</text></g>
<g id="cg10"><circle class="r" cx="311" cy="258" r="3.500"/><text x="311" y="269">🛠 community-general</text></g>
<g id="projects-dev"><circle class="g" cx="305" cy="373" r="3.500"/><text x="305" y="384">DEV GUILD COMMUNITY PROJECTS</text></g>
<g id="dp1"><circle class="g" cx="304" cy="312" r="3.500"/><text x="304" y="323">web3-ui-project</text></g>
<g id="dp2"><circle class="s" cx="279" cy="315" r="3.500"/><text x="279" y="326">devdao-domain-tutorial</text></g>
<g id="dp3"><circle class="g" cx="262" cy="325" r="3.500"/><text x="262" y="336">decentralized-npm-registry-contest</text></g>
<g id="dp4"><circle class="g" cx="249" cy="342" r="3.500"/><text x="249" y="353">gitcoin-bounty-bot</text></g>
<g id="dp5"><circle class="g" cx="242" cy="362" r="3.500"/><text x="242" y="373">patrolbot-project</text></g>
<g id="dp6"><circle class="s" cx="245" cy="385" r="3.500"/><text x="245" y="396">job-board-project</text></g>
<g id="ops"><circle class="g" cx="376" cy="419" r="3.500"/><text x="376" y="430">DEV GUILD OPERATIONS</text></g>
<g id="op1"><circle class="g" cx="353" cy="363" r="3.500"/><text x="353" y="374">builders-team</text></g>
<g id="op2"><circle class="g" cx="378" cy="360" r="3.500"/><text x="378" y="371">operations-team</text></g>
<g id="op3"><circle class="o" cx="332" cy="382" r="3.500"/><text x="332" y="393">onboarding-team</text></g>
<g id="op4"><circle class="o" cx="317" cy="417" r="3.500"/><text x="317" y="428">security-team</text></g>
<g id="marketing"><circle class="g" cx="411" cy="398" r="3.500"/><text x="411" y="409">MARKETING GUILD</text></g>
<g id="mk1"><circle class="r" cx="398" cy="336" r="3.500"/><text x="398" y="347">💬 -mbd-general</text></g>
<g id="partners"><circle class="g" cx="446" cy="398" r="3.500"/><text x="446" y="409">BD/PARTNERSHIPS-2</text></g>
<g id="pa1"><circle class="y" cx="433" cy="339" r="3.500"/><text x="433" y="350">guild-partnership</text></g>
<g id="writers"><circle class="g" cx="496" cy="386" r="4.500"/><text x="496" y="397.500">WRITERS GUILD</text></g>
<g id="wr1"><circle class="l" cx="510" cy="315" r="3.500"/><text x="510" y="326">writers-voice</text></g>
<g id="wr2"><circle class="g" cx="490" cy="326" r="3.500"/><text x="490" y="337">📰 -newsletter-feed</text></g>
<g id="wr3"><circle class="g" cx="466" cy="334" r="3.500"/><text x="466" y="345">📅 -content-review</text></g>
<g id="wr4"><circle class="g" cx="528" cy="336" r="3.500"/><text x="528" y="347">✏ -writers-start-here</text></g>
<g id="wr5"><circle class="l" cx="550" cy="354" r="3.500"/><text x="550" y="365">writers-voice-text</text></g>
<g id="wr6"><circle class="g" cx="554" cy="388" r="3.500"/><text x="554" y="399">📝 -scribes-start-here</text></g>
<g id="wr7"><circle class="g" cx="545" cy="419" r="3.500"/><text x="548" y="430">💼 -writing-jobs</text></g>
<g id="wr8"><circle class="g" cx="527" cy="438" r="3.500"/><text x="530" y="449">🎯 -wg-opportunities</text></g>
<g id="wr9"><circle class="o" cx="503" cy="446" r="3.500"/><text x="503" y="457">🍕 -writers-general</text></g>
<g id="wr10"><circle class="g" cx="475" cy="440" r="3.500"/><text x="475" y="451">🌱 -content-planning</text></g>
<g id="design"><circle class="g" cx="381" cy="476" r="3.500"/><text x="381" y="487">DESIGN GUILD</text></g>
<g id="de1"><circle class="r" cx="327" cy="453" r="3.500"/><text x="327" y="464">design-general</text></g>
<g id="de2"><circle class="g" cx="324" cy="486" r="3.500"/><text x="324" y="497">design-start-here</text></g>
<g id="education"><circle class="g" cx="275" cy="489" r="4"/><text x="275" y="501">DEV GUILD EDUCATION</text></g>
<g id="ed1"><circle class="g" cx="248" cy="436" r="3.500"/><text x="248" y="447">web3-study-group</text></g>
<g id="ed2"><circle class="g" cx="227" cy="450" r="3.500"/><text x="227" y="461">education-platform</text></g>
<g id="ed3"><circle class="o" cx="217" cy="470" r="3.500"/><text x="217" y="481">workshops-platform</text></g>
<g id="ed4"><circle class="l" cx="201" cy="490" r="3.500"/><text x="201" y="501">education-voice-text</text></g>
<g id="ed5"><circle class="o" cx="217" cy="506" r="3.500"/><text x="217" y="517">education-team</text></g>
<g id="ed6"><circle class="r" cx="229" cy="527" r="3.500"/><text x="229" y="538">edu-general</text></g>
<g id="ed7"><circle class="l" cx="218" cy="544" r="3.500"/><text x="218" y="555">education-voice</text></g>
<g id="ed8"><circle class="g" cx="250" cy="546" r="3.500"/><text x="250" y="557">web2-study-group</text></g>
<g id="initiatives"><circle class="g" cx="474" cy="505" r="3.500"/><text x="474" y="516">MBD INITIATIVES</text></g>
<g id="in1"><circle class="y" cx="499" cy="557" r="3.500"/><text x="499" y="568">devrel-team</text></g>
<g id="dev"><circle class="g" cx="367" cy="572" r="6"/><text x="367" y="585">DEV GUILD</text></g>
<g id="dg1"><circle class="g" cx="336" cy="524" r="3.500"/><text x="336" y="535">mentorship</text></g>
<g id="dg2"><circle class="l" cx="397" cy="524" r="3.500"/><text x="397" y="535">developers-guild-voice-text</text></g>
<g id="dg3"><circle class="g" cx="422" cy="550" r="3.500"/><text x="422" y="561">dev-announcements</text></g>
<g id="dg4"><circle class="g" cx="427" cy="578" r="3.500"/><text x="427" y="589">🔔 -dev-announce</text></g>
<g id="dg5"><circle class="g" cx="420" cy="602" r="3.500"/><text x="420" y="613">dev-n-tell</text></g>
<g id="dg6"><circle class="g" cx="407" cy="619" r="3.500"/><text x="407" y="630">peer-review-contracts</text></g>
<g id="dg7"><circle class="o" cx="389" cy="630" r="3.500"/><text x="389" y="641">all-in-me-my-failures</text></g>
<g id="dg8"><circle class="r" cx="369" cy="634" r="3.500"/><text x="369" y="645">dao-threads</text></g>
<g id="dg9"><circle class="g" cx="349" cy="632" r="3.500"/><text x="346" y="643">🔔 -dev-only-chat</text></g>
<g id="dg10"><circle class="g" cx="333" cy="626" r="3.500"/><text x="333" y="637">🟩 -dev-start-here</text></g>
<g id="dg11"><circle class="l" cx="319" cy="617" r="3.500"/><text x="319" y="628">developers-guild-voice</text></g>
<g id="dg12"><circle class="o" cx="311" cy="604" r="3.500"/><text x="311" y="615">issues-feed</text></g>
<g id="dg13"><circle class="g" cx="305" cy="588" r="3.500"/><text x="305" y="599">pair-bot-messages</text></g>
<g id="dg14"><circle class="g" cx="305" cy="570" r="3.500"/><text x="305" y="581">pairing-hub</text></g>
<g id="dg15"><circle class="g" cx="313" cy="548" r="3.500"/><text x="313" y="559">weekly-objectives</text></g>
<g id="governance"><circle class="g" cx="367" cy="684" r="3.500"/><text x="367" y="695">GOVERNANCE GUILD</text></g>
<g id="go1"><circle class="r" cx="304" cy="696" r="3.500"/><text x="304" y="707">🪦 gov-general-private</text></g>
<g id="go2"><circle class="g" cx="314" cy="717" r="3.500"/><text x="314" y="728">☂ -gov-start-here</text></g>
<g id="go3"><circle class="g" cx="334" cy="737" r="3.500"/><text x="334" y="748">tokenomics</text></g>
<g id="go4"><circle class="l" cx="309" cy="742" r="3.500"/><text x="309" y="753">gov-voice-text</text></g>
<g id="go5"><circle class="g" cx="354" cy="744" r="3.500"/><text x="354" y="755">💬 -gov-discussion</text></g>
<g id="go6"><circle class="g" cx="381" cy="745" r="3.500"/><text x="381" y="756">-governance-proposals</text></g>
<g id="go7"><circle class="o" cx="404" cy="731" r="3.500"/><text x="404" y="742">🔨 -gov-framework</text></g>
<g id="go8"><circle class="l" cx="358" cy="766" r="3.500"/><text x="358" y="777">governance-voice</text></g>
</svg>
